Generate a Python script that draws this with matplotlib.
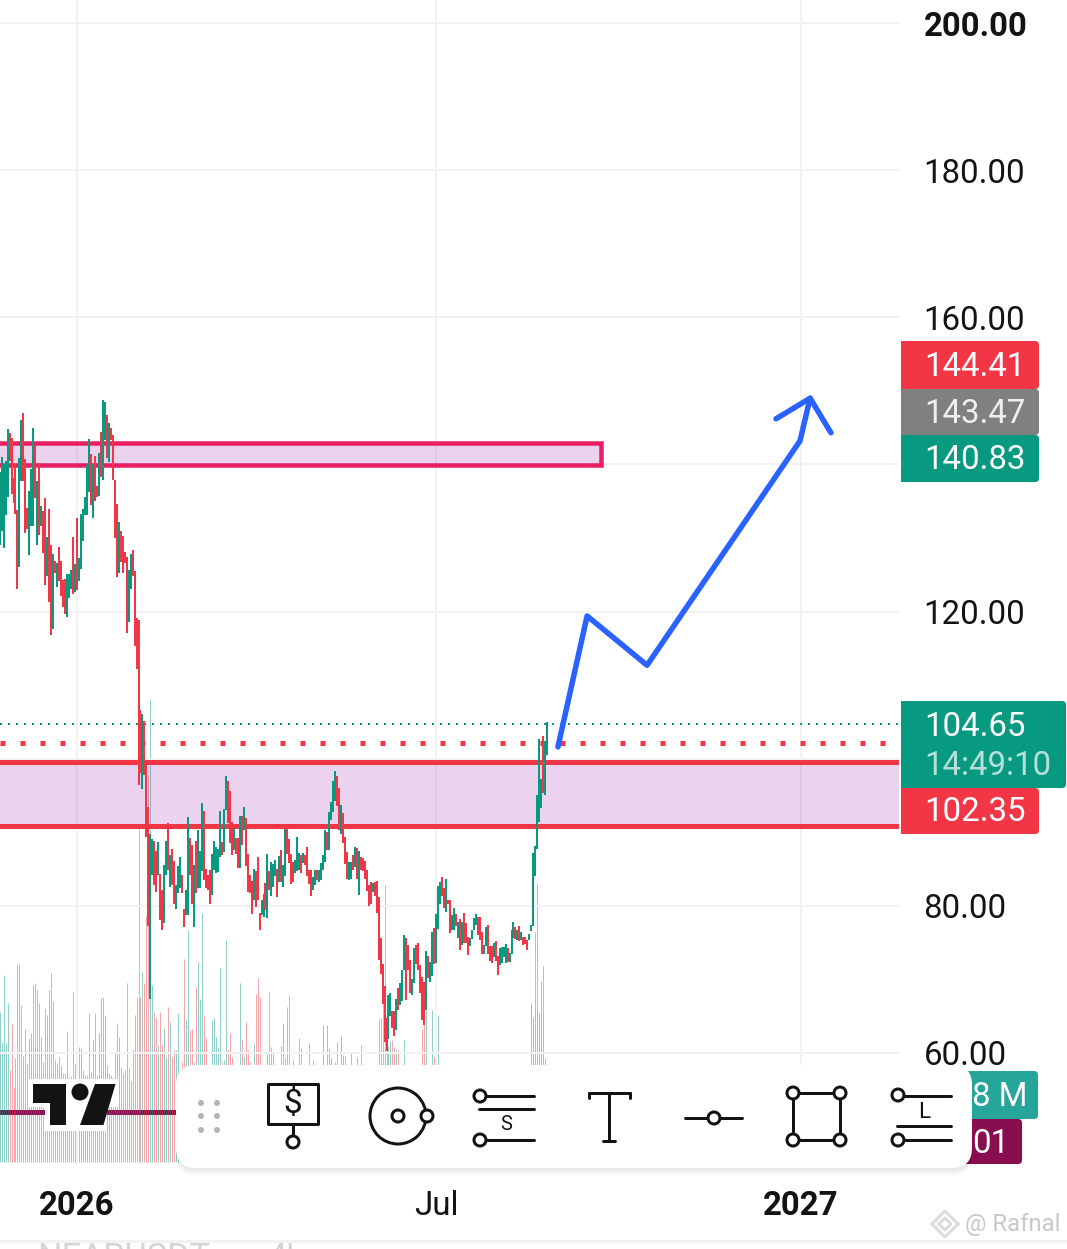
import matplotlib
matplotlib.use('Agg')
import matplotlib.pyplot as plt
from matplotlib.patches import Rectangle, FancyBboxPatch, Circle, Polygon

plt.rcParams['font.family'] = ['Roboto', 'DejaVu Sans']

# Candle data, one bar per day (day 0 = 1 Jan 2026)
first_day = -39
highs = [
    139.0, 141.0,
    140.1, 140.5, 144.8, 144.3, 143.6, 138.2, 140.1, 133.8, 140.9, 146.0,
    147.0, 140.7, 134.1, 136.4, 139.4, 145.0, 142.6, 137.8, 140.2, 134.4,
    133.7, 135.4, 130.1, 133.9, 129.0, 127.8, 126.9, 126.6, 128.8, 126.9,
    124.3, 124.4, 125.1, 125.1, 125.7, 130.1, 126.5, 132.7, 127.3, 133.3,
    133.9, 135.6, 139.9, 143.5, 141.4, 140.1, 141.2, 137.1, 141.6, 144.4,
    148.8, 148.5, 146.7, 145.6, 145.0, 144.0, 137.9, 134.6, 132.2, 131.0,
    130.3, 128.1, 127.4, 125.7, 127.8, 128.4, 125.5, 119.1, 118.9, 106.6,
    106.1, 105.1, 99.4, 93.5, 89.8, 89.1, 88.8, 87.5, 88.7, 84.3,
    82.2, 85.6, 88.8, 91.3, 86.9, 87.7, 86.1, 82.8, 85.4, 86.6,
    84.2, 79.6, 82.2, 92.1, 89.2, 88.3, 85.6, 88.8, 90.3, 87.5,
    94.0, 92.9, 85.0, 84.2, 84.9, 87.0, 88.8, 88.0, 87.7, 92.9,
    88.7, 93.2, 97.7, 97.0, 95.6, 91.4, 90.6, 89.2, 89.2, 92.2,
    92.2, 93.4, 91.9, 87.0, 84.2, 83.4, 85.0, 84.7, 86.6, 79.0,
    80.8, 81.6, 83.1, 87.0, 84.7, 86.0, 85.7, 86.2, 85.0, 86.8,
    87.6, 85.6, 90.5, 90.5, 89.1, 87.1, 86.0, 86.2, 89.4, 87.2,
    86.9, 87.2, 86.9, 88.0, 84.9, 84.9, 83.9, 84.9, 84.9, 84.9,
    85.8, 86.9, 90.3, 90.0, 92.8, 94.1, 97.0, 98.3, 97.7, 96.0,
    93.7, 92.6, 89.4, 87.3, 85.9, 86.0, 86.9, 88.0, 87.9, 87.5,
    86.6, 86.5, 86.1, 84.9, 82.8, 83.2, 83.1, 83.2, 83.4, 81.2,
    75.6, 72.1, 69.1, 64.8, 67.9, 68.2, 65.7, 65.7, 67.4, 68.8,
    69.5, 71.3, 76.0, 75.6, 74.7, 72.6, 70.1, 74.3, 74.7, 75.0,
    72.0, 70.3, 69.7, 73.9, 73.2, 72.4, 76.5, 77.0, 78.9, 82.7,
    83.2, 83.9, 82.4, 83.7, 80.8, 80.8, 78.8, 79.7, 78.9, 77.8,
    78.2, 77.8, 79.0, 77.7, 75.8, 75.6, 76.7, 78.4, 78.9, 78.5,
    78.5, 76.5, 74.7, 77.1, 77.4, 74.5, 74.5, 75.0, 75.2, 73.2,
    74.3, 74.4, 74.4, 74.8, 74.3, 73.6, 76.7, 77.8, 77.1, 76.7,
    77.3, 76.5, 75.8, 75.8, 75.4, 76.2, 77.4, 87.2, 88.1, 95.0,
    102.7, 97.2, 103.1, 102.4, 105.0,
]
lows = [
    129.0, 131.0,
    128.6, 133.1, 135.6, 140.5, 136.0, 134.8, 133.3, 123.1, 126.1, 137.8,
    137.8, 130.7, 131.2, 127.7, 131.6, 131.6, 135.4, 129.0, 130.4, 131.6,
    128.0, 123.6, 124.8, 121.3, 116.8, 117.6, 125.2, 123.3, 124.2, 122.1,
    120.6, 119.7, 119.3, 121.9, 123.1, 122.4, 122.7, 122.9, 124.2, 125.8,
    129.6, 133.1, 133.1, 136.3, 134.5, 132.7, 135.0, 135.6, 135.7, 138.3,
    137.9, 143.3, 140.9, 140.3, 143.3, 137.9, 130.0, 124.7, 125.2, 126.7,
    125.2, 126.6, 117.1, 118.6, 123.1, 124.8, 115.3, 112.2, 96.4, 98.0,
    95.9, 97.8, 89.4, 77.2, 67.3, 84.2, 82.8, 81.9, 84.2, 78.1,
    76.7, 77.6, 84.2, 84.9, 82.6, 82.8, 80.3, 79.6, 81.7, 82.4,
    81.7, 77.1, 78.8, 78.8, 84.2, 80.3, 77.1, 81.7, 82.4, 82.4,
    84.7, 83.5, 82.4, 82.2, 80.3, 81.5, 84.9, 84.4, 84.6, 86.7,
    86.9, 87.3, 93.0, 91.2, 88.5, 86.9, 87.6, 87.0, 85.2, 85.2,
    88.3, 90.3, 85.4, 81.9, 81.7, 78.9, 80.8, 79.9, 80.8, 76.7,
    78.8, 78.5, 79.4, 78.4, 82.2, 81.3, 82.6, 84.0, 81.2, 83.3,
    83.3, 82.6, 84.0, 87.1, 85.8, 83.0, 83.3, 84.4, 84.7, 84.9,
    84.4, 85.8, 85.6, 84.0, 83.0, 81.3, 82.2, 82.8, 83.5, 83.3,
    83.5, 84.9, 86.0, 87.6, 87.6, 91.7, 92.8, 94.2, 93.6, 90.3,
    89.8, 88.5, 85.7, 83.6, 83.5, 83.7, 84.9, 85.3, 83.7, 81.5,
    84.9, 84.7, 83.7, 82.0, 80.0, 80.3, 81.9, 81.3, 79.0, 72.6,
    70.8, 66.7, 61.5, 60.2, 61.9, 65.0, 63.4, 62.3, 63.1, 65.8,
    66.5, 67.0, 71.3, 67.2, 71.3, 68.1, 67.9, 69.5, 72.1, 71.3,
    68.2, 64.5, 63.8, 65.8, 70.2, 69.7, 70.4, 72.1, 72.2, 76.9,
    80.3, 81.3, 79.7, 79.2, 80.3, 76.3, 76.7, 76.7, 77.2, 75.6,
    74.0, 74.7, 74.9, 75.0, 73.3, 74.5, 75.5, 76.7, 77.4, 76.0,
    75.4, 73.5, 73.5, 74.5, 73.5, 72.5, 72.2, 73.1, 72.5, 70.6,
    72.0, 72.2, 73.1, 72.2, 72.3, 72.4, 73.5, 75.6, 75.5, 75.4,
    75.2, 75.3, 74.7, 74.8, 74.0, 75.3, 76.6, 77.2, 84.0, 87.7,
    91.4, 93.3, 95.3, 95.0, 100.5,
]
# u = up bar, d = down bar
directions = (
    'uu'
    'uuuddddduu' 'ddduuududu' 'dduddududd' 'dduuududuu' 'uuuududdud'
    'uududdddud' 'ddduuddddd' 'uddduuddud' 'duududduuu' 'dduudduduu'
    'udddduuuuu' 'duuddduddu' 'dudddduddd' 'uududuuudu' 'duudddduuu'
    'dudddduudu' 'uuuduuuudd' 'uddduududu' 'ddddddsddd' 'dddduuddud'
    'uuuddduudd' 'ddduduuduu' 'uddudduudu' 'duddduuuud' 'dduudddudd'
    'uuuuduuudu' 'duddduuuuu' 'uuduu'
)
volumes = [
    150, 120,
    187, 119, 159, 92, 138, 74, 104, 197, 198, 157,
    106, 133, 99, 124, 129, 177, 179, 172, 159, 125,
    100, 154, 147, 172, 189, 161, 102, 99, 105, 96,
    89, 89, 131, 85, 86, 170, 98, 89, 115, 114,
    92, 87, 87, 149, 90, 123, 149, 87, 129, 164,
    165, 147, 97, 89, 87, 85, 109, 139, 125, 95,
    89, 92, 179, 94, 81, 112, 147, 165, 333, 165,
    190, 179, 246, 387, 463, 177, 150, 144, 117, 150,
    117, 133, 105, 155, 140, 105, 112, 112, 149, 85,
    100, 203, 142, 232, 132, 133, 100, 175, 200, 163,
    249, 147, 124, 97, 90, 142, 144, 125, 115, 194,
    100, 102, 222, 112, 129, 105, 80, 80, 80, 179,
    122, 105, 140, 112, 100, 90, 119, 168, 184, 165,
    85, 85, 85, 108, 170, 115, 110, 85, 85, 85,
    116, 139, 104, 155, 167, 85, 102, 85, 85, 124,
    114, 85, 85, 85, 119, 85, 102, 85, 85, 85,
    85, 137, 85, 137, 114, 104, 85, 100, 120, 85,
    126, 107, 106, 85, 85, 109, 85, 85, 105, 85,
    117, 70, 70, 80, 75, 70, 80, 70, 75, 143,
    144, 159, 277, 125, 116, 121, 122, 115, 113, 112,
    85, 85, 122, 85, 80, 75, 80, 85, 80, 75,
    80, 133, 142, 152, 80, 80, 152, 105, 142, 147,
    72, 68, 80, 75, 66, 70, 64, 78, 82, 60,
    70, 74, 66, 62, 80, 76, 70, 68, 72, 64,
    60, 74, 78, 82, 70, 66, 68, 72, 76, 60,
    64, 70, 74, 66, 62, 68, 72, 76, 70, 64,
    68, 74, 78, 66, 72, 60, 159, 145, 230, 279,
    149, 181, 196, 104, 80,
]

# Axis ticks
price_ticks = [200, 180, 160, 140, 120, 100, 80, 60]
price_labels = ['200.00', '180.00', '160.00', '', '120.00', '', '80.00', '60.00']
date_ticks = [0, 181, 365]
date_labels = ['2026', 'Jul', '2027']

# Drawn levels and zones
last_price = 104.65
dashed_level = 102.2
indicator_level = 50
upper_zone = (139.88, 142.87, 264)
lower_zone = (90.85, 99.5, 470)

# Forecast path
path_days = [242.4, 257.1, 287.3, 364.4, 369.5]
path_prices = [101.6, 119.4, 112.7, 143.2, 149.0]
head_days = [352.3, 369.5, 380.0]
head_prices = [146.2, 149.0, 144.3]

GREEN = '#089981'
RED = '#f23645'
PINK = '#e91e63'
BLUE = '#2962ff'
INK = '#131313'
PX = 0.72  # one pixel in points at dpi 100
FONT = 23.8

fig = plt.figure(figsize=(10.67, 12.49), dpi=100, facecolor='white')
ax = fig.add_axes([0, 84 / 1249, 899 / 1067, 1165 / 1249])
ax.set_xlim(-38.81, 414.3)
ax.set_ylim(44.77, 203.13)

days = [first_day + i for i in range(len(highs))]
bar_colors = [GREEN if d in 'us' else RED for d in directions]

# Volume sits on its own scale behind the candles
vol_ax = ax.twinx()
vol_ax.set_ylim(-3, 1162)
vol_ax.set_axis_off()
ax.set_zorder(vol_ax.get_zorder() + 1)
ax.patch.set_visible(False)
vol_ax.hlines(indicator_level, -40, 440, color='#880e4f', lw=5 * PX, zorder=1)
vol_bars = vol_ax.vlines(days, 0, volumes, colors=bar_colors, alpha=0.45, lw=1 * PX, zorder=3)
vol_bars.set_snap(True)

# Grid and axis labels
ax.set_xticks(date_ticks, date_labels)
ax.set_yticks(price_ticks, price_labels)
ax.yaxis.tick_right()
ax.grid(True, color='#f2f2f2', lw=2 * PX)
ax.set_axisbelow(True)
ax.tick_params(axis='both', length=0, labelsize=FONT, labelcolor=INK)
ax.tick_params(axis='y', pad=17.6)
ax.tick_params(axis='x', pad=18.3)
for spine in ax.spines.values():
    spine.set_visible(False)
ax.get_yticklabels()[0].set_fontweight('bold')
ax.get_xticklabels()[0].set_fontweight('bold')
ax.get_xticklabels()[2].set_fontweight('bold')

# Zones
ax.add_patch(Rectangle((-50, upper_zone[0]), upper_zone[2] + 50, upper_zone[1] - upper_zone[0],
                       facecolor='#9c27b033', edgecolor=PINK, lw=4.5 * PX, zorder=1))
ax.add_patch(Rectangle((-50, lower_zone[0]), lower_zone[2] + 50, lower_zone[1] - lower_zone[0],
                       facecolor='#9c27b033', edgecolor=RED, lw=5 * PX, zorder=1))

# Price lines
ax.plot([-39, 414.3], [last_price, last_price], color=GREEN, lw=2 * PX,
        dashes=(1, 3), dash_capstyle='butt', zorder=1.5)
ax.plot([-39, 414.3], [dashed_level, dashed_level], color=RED, lw=5 * PX,
        dashes=(1, 3), dash_capstyle='butt', zorder=1.5)

# Candles, so thin that body and wick read as a single stroke
candles = ax.vlines(days, lows, highs, colors=bar_colors, lw=2 * PX, zorder=3)
candles.set_snap(True)

# Forecast arrow
ax.plot(path_days, path_prices, color=BLUE, lw=5.5 * PX, solid_capstyle='round',
        solid_joinstyle='round', zorder=4)
ax.plot(head_days, head_prices, color=BLUE, lw=5.5 * PX, solid_capstyle='round',
        solid_joinstyle='round', zorder=4)

# Overlay in pixel coordinates for tags, toolbar and logo
ov = fig.add_axes([0, 0, 1, 1])
ov.set_zorder(10)
ov.set_xlim(0, 1067)
ov.set_ylim(1249, 0)
ov.set_axis_off()


def tag(x0, x1, y0, y1, color, z=2):
    r = 4
    ov.add_patch(FancyBboxPatch((x0 + r, y0 + r), x1 - x0 - 2 * r, y1 - y0 - 2 * r,
                                boxstyle='round,pad=%d,rounding_size=%d' % (r, r),
                                facecolor=color, edgecolor='none', zorder=z))
    ov.add_patch(Rectangle((x0, y0), 10, y1 - y0, facecolor=color, edgecolor='none', zorder=z))


def label(x, y, text, color='white', size=FONT, **kw):
    ov.text(x, y, text, color=color, fontsize=size, va='center', zorder=3, **kw)


tag(901, 1039, 341, 389, RED)
label(924.5, 367, '144.41')
tag(901, 1039, 389, 435, '#808080')
label(924.5, 414, '143.47', color='#ffffffe0')
tag(901, 1039, 435, 482, GREEN)
label(924.5, 460, '140.83')
tag(901, 1066, 701, 788, GREEN)
label(924.5, 727, '104.65')
label(924.5, 766, '14:49:10', color='#ffffffb3')
tag(901, 1039, 788, 834, RED)
label(924.5, 812, '102.35')
tag(950, 1038, 1071, 1119, '#26a69a')
label(972, 1097, '8 M')
tag(950, 1022, 1119, 1164, '#880e4f')
label(972, 1144, '01')

# TradingView logo on its white halo
ov.add_patch(Rectangle((28, 1079), 91, 28, facecolor='white', zorder=2))
ov.add_patch(Rectangle((45, 1107), 62, 24, facecolor='white', zorder=2))
ov.add_patch(Polygon([(33, 1084), (66, 1084), (66, 1125), (50, 1125), (50, 1103), (33, 1103)],
                     facecolor=INK, zorder=3))
ov.add_patch(Circle((80, 1092), 8.5, facecolor=INK, zorder=3))
ov.add_patch(Polygon([(95, 1084), (115.5, 1084), (103.5, 1125), (80, 1125)], facecolor=INK, zorder=3))

# Floating toolbar with a soft shadow
for off in range(1, 9):
    ov.add_patch(FancyBboxPatch((196, 1085 + off), 756, 63, boxstyle='round,pad=20,rounding_size=20',
                                facecolor='black', alpha=0.012, edgecolor='none', zorder=4))
ov.add_patch(FancyBboxPatch((196, 1085), 756, 63, boxstyle='round,pad=20,rounding_size=20',
                            facecolor='white', edgecolor='none', zorder=5))


def stroke(xs, ys):
    ov.plot(xs, ys, color=INK, lw=3 * PX, solid_capstyle='round', zorder=6)


def knob(x, y, r=6):
    ov.add_patch(Circle((x, y), r, facecolor='white', edgecolor=INK, lw=3 * PX, zorder=7))


for x in [201, 217]:
    for y in [1103, 1116, 1130]:
        ov.add_patch(Circle((x, y), 3, facecolor='#b2b5be', zorder=6))

# price label tool
ov.add_patch(Rectangle((268, 1084), 50, 40, facecolor='none', edgecolor=INK, lw=3 * PX,
                       joinstyle='round', zorder=6))
ov.text(293, 1104, '$', color=INK, fontsize=24, ha='center', va='center', zorder=6)
stroke([293, 293], [1124, 1136])
knob(293, 1142)
# circle tool
ov.add_patch(Circle((398, 1116), 28, facecolor='none', edgecolor=INK, lw=3 * PX, zorder=6))
knob(398, 1116)
knob(427, 1116)
# support line tool
stroke([487, 534], [1096, 1096])
stroke([479, 534], [1109, 1109])
stroke([487, 534], [1140, 1140])
knob(480, 1096)
knob(480, 1140)
ov.text(506, 1125, 'S', color=INK, fontsize=14.5, ha='center', va='center', zorder=6)
# text tool
stroke([589, 630], [1093, 1093])
stroke([609, 609], [1093, 1141])
stroke([589, 589], [1093, 1098])
stroke([630, 630], [1093, 1098])
stroke([603, 615], [1141, 1141])
# horizontal line tool
stroke([685, 742], [1118, 1118])
knob(714, 1118)
# rectangle tool
stroke([793, 840, 840, 793, 793], [1093, 1093, 1140, 1140, 1093])
for cx, cy in [(793, 1093), (840, 1093), (793, 1140), (840, 1140)]:
    knob(cx, cy)
# long position tool
stroke([905, 951], [1096, 1096])
stroke([897, 951], [1126, 1126])
stroke([905, 951], [1140, 1140])
knob(898, 1095)
knob(898, 1140)
ov.text(924, 1112, 'L', color=INK, fontsize=16, ha='center', va='center', zorder=6)

# Strip at the bottom and the cut off title
ov.plot([0, 1067], [1241, 1241], color='#f2f2f2', lw=3 * PX, zorder=1)
ov.text(37, 1267, 'NEARUSDT', color='#d4d4d4', fontsize=24.7, va='baseline', zorder=0.5)
ov.text(267, 1267, '4h', color='#d4d4d4', fontsize=24.7, va='baseline', zorder=0.5)

# Watermark
for xs, ys in [([932, 945, 958], [1224, 1211, 1224]), ([932, 945, 958], [1224, 1237, 1224]),
               ([939, 945, 951, 945, 939], [1224, 1218, 1224, 1230, 1224])]:
    ov.plot(xs, ys, color='#dcdcdc', lw=3 * PX, zorder=2)
ov.text(965, 1225, '@ Rafnal', color='#c8c8c8', fontsize=17.2, va='center', zorder=2)

fig.savefig('out.png', dpi=100)
